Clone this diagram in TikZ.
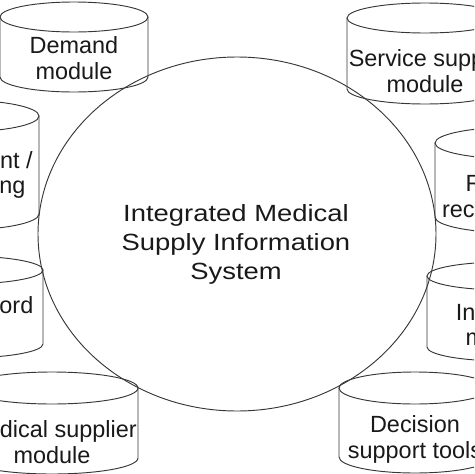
\documentclass[tikz,border=0pt]{standalone}
\usepackage{fontspec}
\setmainfont{Liberation Sans}
\newfontfamily\widesans[FakeStretch=1.17]{Liberation Sans}
\definecolor{linegray}{RGB}{55,55,55}
\definecolor{inkgray}{RGB}{25,25,25}

\begin{document}
\begin{tikzpicture}[x=0.03cm, y=-0.03cm]

\tikzstyle{drum} = [draw=linegray, line width=0.8pt]
\tikzstyle{label} = [text=inkgray, align=center, inner sep=0pt, font=\fontsize{20}{22}\selectfont]
\tikzstyle{core} = [text=inkgray, align=center, inner sep=0pt, font=\widesans\fontsize{20}{25}\selectfont]

\useasboundingbox (0,0) rectangle (474,474);
\clip (0,0) rectangle (474,474);

%% ------------------
%% -- CENTRAL SYSTEM --
%% ------------------

\node (imsis) [core] at (236,244.5) {Integrated Medical\\Supply Information\\System};
\draw [drum] (237,234) ellipse [x radius=199, y radius=177];

%% ------------------
%% -- LEFT MODULES --
%% ------------------

% demand
\draw [drum] (74,17) ellipse [x radius=74, y radius=15];
\draw [drum] (0,17) -- (0,77) arc [start angle=180, end angle=0, x radius=74, y radius=15] -- (148,17);
\node (demand) [label] at (74,58.5) {Demand\\module};

% procurement
\draw [drum] (-41,116) ellipse [x radius=80, y radius=16];
\draw [drum] (-121,116) -- (-121,214) arc [start angle=180, end angle=0, x radius=80, y radius=16] -- (39,116);
\node (procure) [label] at (-41,175) {Procurement /\\warehousing};

% usage record
\draw [drum] (-37,270) ellipse [x radius=80, y radius=14];
\draw [drum] (-117,270) -- (-117,344) arc [start angle=180, end angle=0, x radius=80, y radius=14] -- (43,270);
\node (usage) [label] at (-37,307) {Usage record};

% medical supplier
\draw [drum] (52,388) ellipse [x radius=86, y radius=16];
\draw [drum] (-34,388) -- (-34,458) arc [start angle=180, end angle=0, x radius=86, y radius=16] -- (138,388);
\node (supplier) [label] at (52,442) {Medical supplier\\module};

%% ------------------
%% -- RIGHT MODULES --
%% ------------------

% service supply
\draw [drum] (425,18) ellipse [x radius=78, y radius=15];
\draw [drum] (347,18) -- (347,89) arc [start angle=180, end angle=0, x radius=78, y radius=15] -- (503,18);
\node (service) [label] at (425,71.5) {Service supply\\module};

% receiving record
\draw [drum] (517,143) ellipse [x radius=82, y radius=16];
\draw [drum] (435,143) -- (435,217) arc [start angle=180, end angle=0, x radius=82, y radius=16] -- (599,143);
\node (receiving) [label] at (517,196.5) {Receiving\\record module};

% inventory
\draw [drum] (504,276) ellipse [x radius=77, y radius=14];
\draw [drum] (427,276) -- (427,347) arc [start angle=180, end angle=0, x radius=77, y radius=14] -- (581,276);
\node (inventory) [label] at (504,325) {Inventory\\module};

% decision support
\draw [drum] (415,388) ellipse [x radius=76, y radius=16];
\draw [drum] (339,388) -- (339,457) arc [start angle=180, end angle=0, x radius=76, y radius=16] -- (491,388);
\node (decision) [label] at (415,439.5) {Decision\\support tools};

\end{tikzpicture}
\end{document}
